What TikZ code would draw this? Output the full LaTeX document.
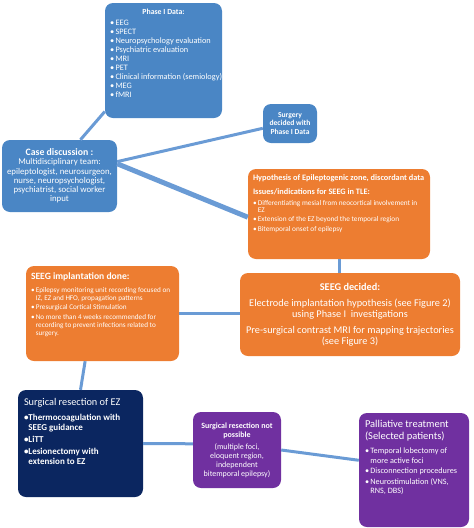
\documentclass[tikz,border=0pt]{standalone}
\usepackage{fontspec}
\setmainfont{Carlito}
\usetikzlibrary{positioning}
\definecolor{boxblue}{HTML}{4A86C5}
\definecolor{boxorange}{HTML}{ED7D31}
\definecolor{boxnavy}{HTML}{0B2660}
\definecolor{boxpurple}{HTML}{7030A0}
\definecolor{linkblue}{HTML}{6A9BD5}
\newcommand{\bl}{\textbullet\,}
\newcommand{\hang}{\phantom{\textbullet\,}}

\begin{document}
\begin{tikzpicture}[x=1pt,y=-1pt,
    card/.style={rectangle, rounded corners=8pt, inner sep=0pt},
    words/.style={text=white, inner sep=0pt},
    link/.style={draw=linkblue, line width=3pt}]
            \useasboundingbox (0,0) rectangle (474,528);
            % boxes
            \node[card, fill=boxblue, minimum width=117pt, minimum height=115pt] (phase) at (163.5,60.5) {};
            \node[card, words, fill=boxblue, minimum width=54pt, minimum height=39pt, align=center, font=\bfseries\fontsize{7.6}{8.5}\selectfont] (surg) at (290,123.5) {Surgery\\decided with\\Phase I Data};
            \node[card, words, fill=boxblue, minimum width=115pt, minimum height=72pt, align=center, font=\fontsize{8.8}{9.3}\selectfont] (case) at (59.5,176) {\textbf{\fontsize{9.8}{10}\selectfont Case discussion :}\\Multidisciplinary team:\\epileptologist, neurosurgeon,\\nurse, neuropsychologist,\\psychiatrist, social worker\\input};
            \node[card, fill=boxorange, minimum width=182pt, minimum height=90pt] (hypo) at (339,214) {};
            \node[card, fill=boxorange, minimum width=153pt, minimum height=95pt] (implant) at (102.5,313.5) {};
            \node[card, words, fill=boxorange, minimum width=220pt, minimum height=83pt, align=center, font=\fontsize{10.3}{11}\selectfont] (seegd) at (350,314.5) {\textbf{SEEG decided:}\\[5pt]Electrode implantation hypothesis (see Figure 2)\\using Phase I\ \ investigations\\[5pt]Pre-surgical contrast MRI for mapping trajectories\\(see Figure 3)};
            \node[card, fill=boxnavy, minimum width=125pt, minimum height=107pt] (ez) at (80.5,443.5) {};
            \node[card, words, fill=boxpurple, minimum width=88pt, minimum height=76pt, align=center, font=\fontsize{8}{9}\selectfont] (nopos) at (237,450) {\textbf{Surgical resection not}\\\textbf{possible}\\[3pt](multiple foci,\\eloquent region,\\independent\\bitemporal epilepsy)};
            \node[card, fill=boxpurple, minimum width=110pt, minimum height=114pt] (pall) at (414,470) {};
            % texts at the top of the boxes
            \node[words, font=\bfseries\fontsize{7.8}{9}\selectfont, below=6pt of phase.north] (phasehead) {Phase I Data:};
            \node[words, align=left, font=\fontsize{8.3}{9}\selectfont, below right=17pt and 5pt of phase.north west] (phaselist) {\bl EEG\\\bl SPECT\\\bl Neuropsychology evaluation\\\bl Psychiatric evaluation\\\bl MRI\\\bl PET\\\bl Clinical information (semiology)\\\bl MEG\\\bl fMRI};
            \node[words, align=left, font=\bfseries\fontsize{8.3}{14}\selectfont, below right=6pt and 5pt of hypo.north west] (hypohead) {Hypothesis of Epileptogenic zone, discordant data\\Issues/indications for SEEG in TLE:};
            \node[words, align=left, font=\fontsize{7.3}{7.4}\selectfont, below right=31pt and 5pt of hypo.north west] (hypolist) {\bl Differentiating mesial from neocortical involvement in\\\hang EZ\\[2pt]\bl Extension of the EZ beyond the temporal region\\[2pt]\bl Bitemporal onset of epilepsy};
            \node[words, font=\bfseries\fontsize{9.6}{10}\selectfont, below right=7pt and 5pt of implant.north west] (implanthead) {SEEG implantation done:};
            \node[words, align=left, font=\fontsize{7.2}{8}\selectfont, below right=21pt and 5pt of implant.north west] (implantlist) {\bl Epilepsy monitoring unit recording focused on\\\hang IZ, EZ and HFO, propagation patterns\\[1.5pt]\bl Presurgical Cortical Stimulation\\[1.5pt]\bl No more than 4 weeks recommended for\\\hang recording to prevent infections related to\\\hang surgery.};
            \node[words, font=\fontsize{10.3}{11}\selectfont, below right=8pt and 6pt of ez.north west] (ezhead) {Surgical resection of EZ};
            \node[words, align=left, font=\bfseries\fontsize{9}{10}\selectfont, below right=24pt and 6pt of ez.north west] (ezlist) {\textbullet Thermocoagulation with\\\phantom{\textbullet}SEEG guidance\\[2pt]\textbullet LiTT\\[2pt]\textbullet Lesionectomy with\\\phantom{\textbullet}extension to EZ};
            \node[words, align=left, font=\fontsize{10.5}{12}\selectfont, below right=7pt and 6pt of pall.north west] (pallhead) {Palliative treatment\\(Selected patients)};
            \node[words, align=left, font=\fontsize{8.2}{9.5}\selectfont, below right=35pt and 6pt of pall.north west] (palllist) {\bl Temporal lobectomy of\\\hang more active foci\\[1pt]\bl Disconnection procedures\\[1pt]\bl Neurostimulation (VNS,\\\hang RNS, DBS)};
            % connectors
            \draw[link] (case.60) -- (phase.221);
            \draw[link] (case.14) -- (surg.190);
            \draw[link, line width=5pt] (case.12) -- (hypo.182);
            \draw[link] (hypo.south) -- (hypo.south |- seegd.north);
            \draw[link] (implant.east) -- (implant.east -| seegd.west);
            \draw[link] (implant.250) -- (ez.north);
            \draw[link] (ez.east) -- (nopos.172);
            \draw[link] (nopos.east) -- (pall.170);
\end{tikzpicture}
\end{document}
